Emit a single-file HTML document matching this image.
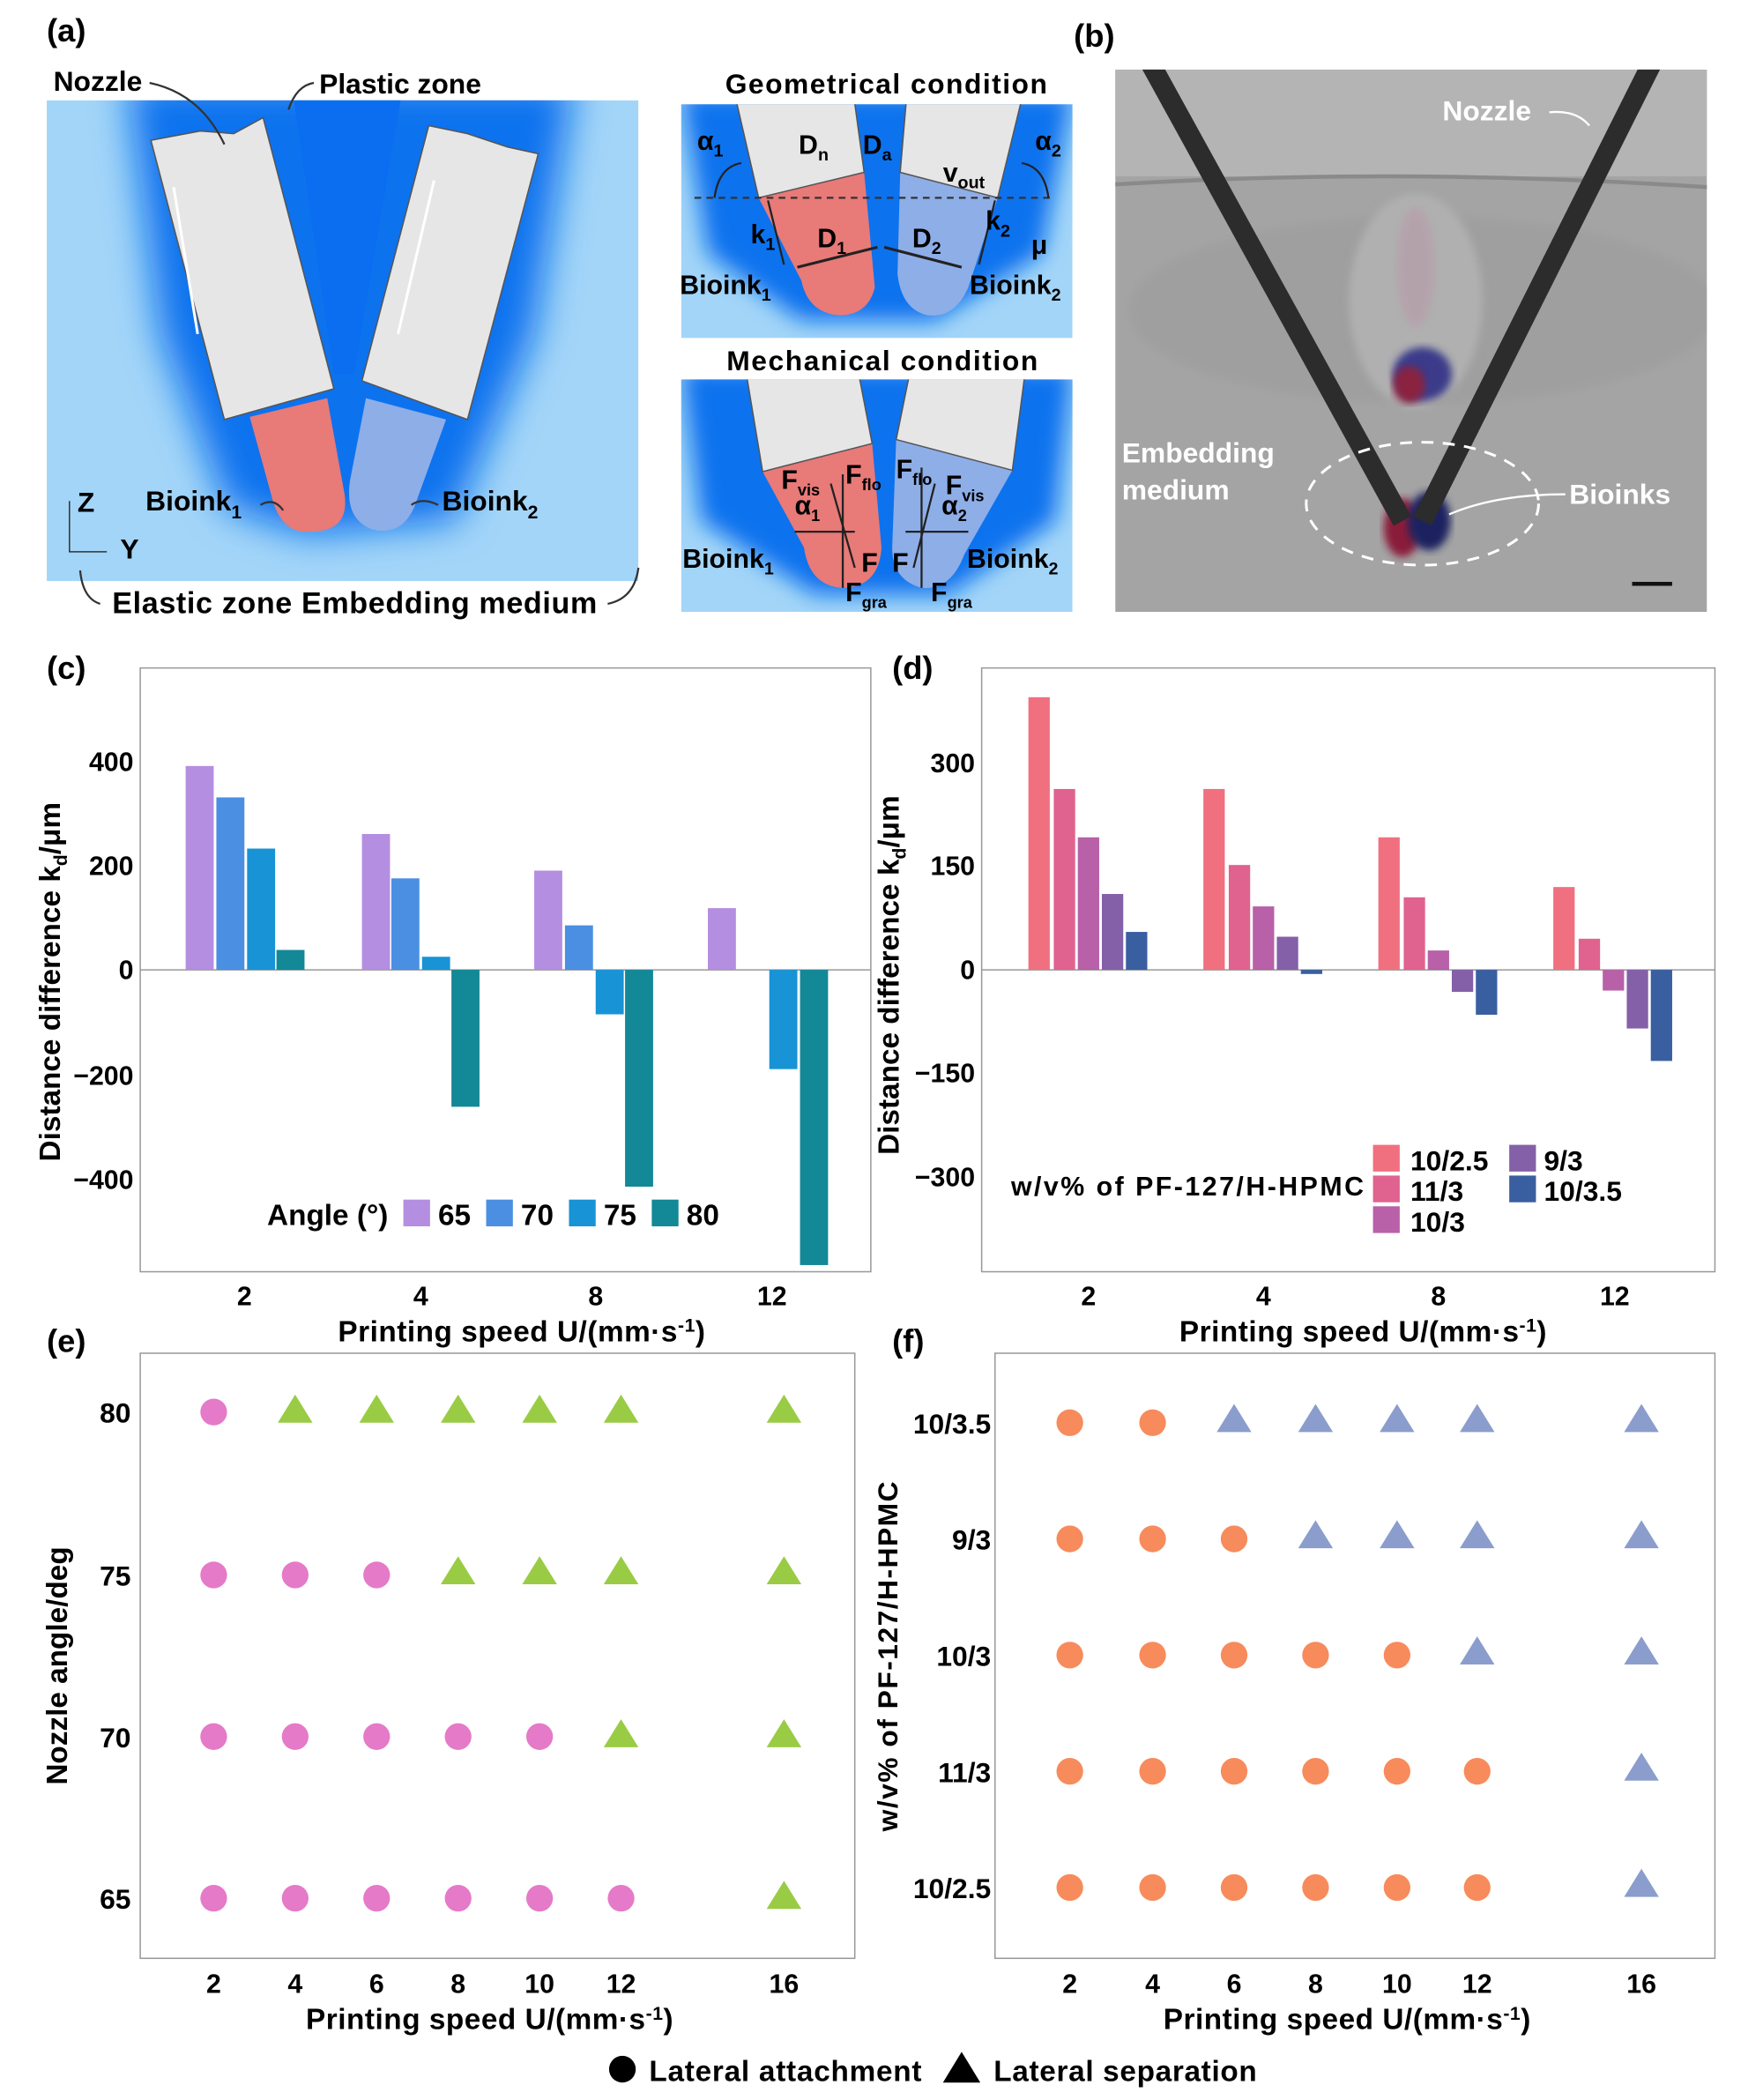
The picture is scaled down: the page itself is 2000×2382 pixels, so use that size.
<!DOCTYPE html>
<html><head><meta charset="utf-8"><style>
html,body{margin:0;padding:0;background:#fff;}
svg{display:block;}
text{font-family:"Liberation Sans",Arial,sans-serif;font-weight:bold;}
</style></head><body>
<svg width="2000" height="2382" viewBox="0 0 1320 1572" xmlns="http://www.w3.org/2000/svg">
<defs>
<filter id="bl" x="-30%" y="-30%" width="160%" height="160%"><feGaussianBlur stdDeviation="14"/></filter>
<filter id="bl2" x="-30%" y="-30%" width="160%" height="160%"><feGaussianBlur stdDeviation="8"/></filter>
<filter id="bl3"><feGaussianBlur stdDeviation="3"/></filter>
<clipPath id="ca"><rect x="35" y="75" width="443" height="360"/></clipPath>
<clipPath id="cg"><rect x="510" y="78" width="293" height="175"/></clipPath>
<clipPath id="cm"><rect x="510" y="284" width="293" height="174"/></clipPath>
<clipPath id="cb"><rect x="835" y="52" width="443" height="406"/></clipPath>
</defs>

<!-- Panel a -->
<text x="35" y="31" font-size="24">(a)</text>
<g clip-path="url(#ca)">
<rect x="35" y="75" width="443" height="360" fill="#a3d5f8"/>
<polygon points="95,60 230,60 330,60 430,60 400,250 340,390 230,400 170,380 120,250" fill="#0a72ee" filter="url(#bl)"/>
<polygon points="220,75 300,75 265,280 250,280" fill="#0b6ef0"/>
<path d="M187,312 L245,298 L258,370 Q262,398 232,398 Q210,400 203,370 Z" fill="#e87a78"/>
<path d="M274,298 L334,314 L310,380 Q300,402 278,396 Q258,388 262,360 Z" fill="#8eaee8"/>
<polygon points="113,105 150,98 175,100 197,88 250,291 168,314" fill="#e6e6e6" stroke="#555" stroke-width="1"/>
<polygon points="321,94 350,100 380,110 403,115 350,314 271,285" fill="#e6e6e6" stroke="#555" stroke-width="1"/>
<line x1="130" y1="140" x2="148" y2="250" stroke="#fff" stroke-width="2"/>
<line x1="325" y1="135" x2="298" y2="250" stroke="#fff" stroke-width="2"/>
</g>
<text x="40" y="68" font-size="21">Nozzle</text>
<path d="M112,62 Q150,70 168,108" fill="none" stroke="#333" stroke-width="1.5"/>
<text x="239" y="70" font-size="21">Plastic zone</text>
<path d="M235,62 Q222,64 216,82" fill="none" stroke="#333" stroke-width="1.5"/>
<text x="109" y="382" font-size="21">Bioink<tspan font-size="14" dy="6">1</tspan></text>
<text x="331" y="382" font-size="21">Bioink<tspan font-size="14" dy="6">2</tspan></text>
<path d="M195,378 Q205,372 212,382" fill="none" stroke="#333" stroke-width="1.5"/>
<path d="M308,378 Q316,372 328,378" fill="none" stroke="#333" stroke-width="1.5"/>
<path d="M52,375 L52,413 L80,413" fill="none" stroke="#333" stroke-width="1"/>
<text x="58" y="383" font-size="21">Z</text>
<text x="90" y="418" font-size="21">Y</text>
<text x="84" y="459" font-size="22.5" textLength="363">Elastic zone  Embedding medium</text>
<path d="M60,427 Q62,448 75,452" fill="none" stroke="#333" stroke-width="1.5"/>
<path d="M478,425 Q475,448 455,452" fill="none" stroke="#333" stroke-width="1.5"/>

<!-- Geometrical -->
<text x="543" y="70" font-size="21" textLength="241">Geometrical condition</text>
<g clip-path="url(#cg)">
<rect x="510" y="78" width="293" height="175" fill="#a3d5f8"/>
<polygon points="510,70 803,70 780,190 700,240 600,240 530,190" fill="#0a72ee" filter="url(#bl2)"/>
<path d="M568,148 L647,129 L655,215 Q650,236 628,236 Q605,234 600,210 Z" fill="#e87a78"/>
<path d="M674,129 L747,148 L725,215 Q715,238 695,236 Q675,232 672,205 Z" fill="#8eaee8"/>
<polygon points="550,70 639,70 647,129 568,148" fill="#e6e6e6" stroke="#555" stroke-width="1"/>
<polygon points="679,70 766,70 747,148 674,129" fill="#e6e6e6" stroke="#555" stroke-width="1"/>
<line x1="520" y1="148" x2="790" y2="148" stroke="#333" stroke-width="1.5" stroke-dasharray="5,4"/>
<path d="M535,148 Q538,125 555,122" fill="none" stroke="#222" stroke-width="1.5"/>
<path d="M785,148 Q782,125 765,122" fill="none" stroke="#222" stroke-width="1.5"/>
<line x1="575" y1="150" x2="587" y2="198" stroke="#222" stroke-width="1.5"/>
<line x1="745" y1="150" x2="733" y2="198" stroke="#222" stroke-width="1.5"/>
<line x1="597" y1="200" x2="657" y2="185" stroke="#222" stroke-width="2"/>
<line x1="662" y1="185" x2="720" y2="200" stroke="#222" stroke-width="2"/>
</g>
<text x="522" y="112" font-size="20">α<tspan font-size="13" dy="5">1</tspan></text>
<text x="598" y="115" font-size="20">D<tspan font-size="13" dy="5">n</tspan></text>
<text x="646" y="115" font-size="20">D<tspan font-size="13" dy="5">a</tspan></text>
<text x="706" y="136" font-size="20">v<tspan font-size="13" dy="5">out</tspan></text>
<text x="775" y="112" font-size="20">α<tspan font-size="13" dy="5">2</tspan></text>
<text x="562" y="182" font-size="20">k<tspan font-size="13" dy="5">1</tspan></text>
<text x="612" y="185" font-size="20">D<tspan font-size="13" dy="5">1</tspan></text>
<text x="683" y="185" font-size="20">D<tspan font-size="13" dy="5">2</tspan></text>
<text x="738" y="172" font-size="20">k<tspan font-size="13" dy="5">2</tspan></text>
<text x="772" y="190" font-size="20">μ</text>
<text x="509" y="220" font-size="20">Bioink<tspan font-size="13" dy="5">1</tspan></text>
<text x="726" y="220" font-size="20">Bioink<tspan font-size="13" dy="5">2</tspan></text>

<!-- Mechanical -->
<text x="544" y="277" font-size="21" textLength="233">Mechanical condition</text>
<g clip-path="url(#cm)">
<rect x="510" y="284" width="293" height="174" fill="#a3d5f8"/>
<polygon points="510,275 803,275 790,390 710,445 610,445 525,390" fill="#0a72ee" filter="url(#bl2)"/>
<path d="M571,353 L653,332 L660,410 Q658,440 630,440 Q606,438 602,410 Z" fill="#e87a78"/>
<path d="M671,329 L758,352 L722,415 Q712,442 690,440 Q668,434 668,410 Z" fill="#8eaee8"/>
<polygon points="558,275 642,275 653,332 571,353" fill="#e6e6e6" stroke="#555" stroke-width="1"/>
<polygon points="682,275 768,275 758,352 671,329" fill="#e6e6e6" stroke="#555" stroke-width="1"/>
<line x1="595" y1="398" x2="640" y2="398" stroke="#222" stroke-width="1.5"/>
<line x1="678" y1="398" x2="725" y2="398" stroke="#222" stroke-width="1.5"/>
<line x1="631" y1="355" x2="631" y2="440" stroke="#222" stroke-width="1.5"/>
<line x1="690" y1="350" x2="690" y2="440" stroke="#222" stroke-width="1.5"/>
<line x1="622" y1="362" x2="640" y2="425" stroke="#222" stroke-width="1.5"/>
<line x1="700" y1="362" x2="684" y2="425" stroke="#222" stroke-width="1.5"/>
</g>
<text x="585" y="366" font-size="20">F<tspan font-size="12" dy="5">vis</tspan></text>
<text x="633" y="362" font-size="20">F<tspan font-size="12" dy="5">flo</tspan></text>
<text x="671" y="358" font-size="20">F<tspan font-size="12" dy="5">flo</tspan></text>
<text x="708" y="370" font-size="20">F<tspan font-size="12" dy="5">vis</tspan></text>
<text x="595" y="385" font-size="20">α<tspan font-size="12" dy="5">1</tspan></text>
<text x="705" y="385" font-size="20">α<tspan font-size="12" dy="5">2</tspan></text>
<text x="645" y="428" font-size="20">F</text>
<text x="668" y="428" font-size="20">F</text>
<text x="633" y="450" font-size="20">F<tspan font-size="12" dy="5">gra</tspan></text>
<text x="697" y="450" font-size="20">F<tspan font-size="12" dy="5">gra</tspan></text>
<text x="511" y="425" font-size="20">Bioink<tspan font-size="13" dy="5">1</tspan></text>
<text x="724" y="425" font-size="20">Bioink<tspan font-size="13" dy="5">2</tspan></text>

<!-- Panel b -->
<text x="804" y="35" font-size="24">(b)</text>
<g clip-path="url(#cb)">
<rect x="835" y="52" width="443" height="406" fill="#a4a4a4"/>
<rect x="835" y="52" width="443" height="80" fill="#b4b4b4"/>
<path d="M835,138 Q1050,125 1278,140" fill="none" stroke="#8a8a8a" stroke-width="3"/>
<ellipse cx="1065" cy="232" rx="220" ry="70" fill="#999" opacity="0.4" filter="url(#bl3)"/>
<ellipse cx="1060" cy="225" rx="50" ry="80" fill="#b0b0b0" filter="url(#bl3)"/>
<ellipse cx="1060" cy="200" rx="14" ry="45" fill="#b89aa8" opacity="0.6" filter="url(#bl3)"/>
<ellipse cx="1065" cy="280" rx="22" ry="20" fill="#3a3a8a" filter="url(#bl3)"/>
<ellipse cx="1055" cy="288" rx="12" ry="14" fill="#8a2040" filter="url(#bl3)"/>
<ellipse cx="1050" cy="395" rx="14" ry="22" fill="#8a1a3a" filter="url(#bl3)"/>
<ellipse cx="1070" cy="390" rx="16" ry="22" fill="#1a2060" filter="url(#bl3)"/>
<line x1="860" y1="45" x2="1050" y2="390" stroke="#2c2c2c" stroke-width="15"/>
<line x1="1238" y1="45" x2="1065" y2="390" stroke="#2c2c2c" stroke-width="15"/>
<ellipse cx="1065" cy="377" rx="87" ry="46" fill="none" stroke="#fff" stroke-width="2" stroke-dasharray="9,7"/>
<line x1="1222" y1="437" x2="1252" y2="437" stroke="#111" stroke-width="3"/>
</g>
<text x="1080" y="90" font-size="21" fill="#fff">Nozzle</text>
<path d="M1160,84 Q1180,82 1190,94" fill="none" stroke="#fff" stroke-width="1.5"/>
<text x="840" y="346" font-size="21" fill="#fff">Embedding</text>
<text x="840" y="374" font-size="21" fill="#fff">medium</text>
<text x="1175" y="377" font-size="21" fill="#fff">Bioinks</text>
<path d="M1172,370 Q1120,370 1085,385" fill="none" stroke="#fff" stroke-width="1.5"/>

<!-- Panel c -->
<text x="35" y="508" font-size="24">(c)</text>
<rect x="105" y="500" width="547" height="452" fill="none" stroke="#999" stroke-width="1"/>
<line x1="105" y1="726" x2="652" y2="726" stroke="#999" stroke-width="1"/>
<g font-size="20" text-anchor="end">
<text x="100" y="577">400</text><text x="100" y="655">200</text><text x="100" y="733">0</text>
<text x="100" y="812">−200</text><text x="100" y="890">−400</text>
</g>
<g font-size="20" text-anchor="middle">
<text x="183" y="977">2</text><text x="315" y="977">4</text><text x="446" y="977">8</text><text x="578" y="977">12</text>
</g>
<text x="253" y="1004" font-size="22" textLength="275">Printing speed U/(mm·s<tspan font-size="14" dy="-7">-1</tspan><tspan dy="7">)</tspan></text>
<text transform="translate(45,735) rotate(-90)" font-size="22" text-anchor="middle">Distance difference k<tspan font-size="14" dy="5">d</tspan><tspan dy="-5">/μm</tspan></text>
<g>
<rect x="139" y="573.4" width="21" height="152.6" fill="#b48ee0"/>
<rect x="162" y="596.9" width="21" height="129.1" fill="#4a8fe2"/>
<rect x="185" y="635.2" width="21" height="90.8" fill="#1893d6"/>
<rect x="207" y="711.1" width="21" height="14.9" fill="#138896"/>
<rect x="271" y="624.3" width="21" height="101.7" fill="#b48ee0"/>
<rect x="293" y="657.5" width="21" height="68.5" fill="#4a8fe2"/>
<rect x="316" y="716.2" width="21" height="9.8" fill="#1893d6"/>
<rect x="338" y="726" width="21" height="102.5" fill="#138896"/>
<rect x="400" y="651.7" width="21" height="74.3" fill="#b48ee0"/>
<rect x="423" y="692.7" width="21" height="33.3" fill="#4a8fe2"/>
<rect x="446" y="726" width="21" height="33.3" fill="#1893d6"/>
<rect x="468" y="726" width="21" height="162.3" fill="#138896"/>
<rect x="530" y="679.8" width="21" height="46.2" fill="#b48ee0"/>
<rect x="576" y="726" width="21" height="74.3" fill="#1893d6"/>
<rect x="599" y="726" width="21" height="221" fill="#138896"/>
</g>
<text x="200" y="917" font-size="22">Angle (°)</text>
<rect x="302" y="898" width="20" height="20" fill="#b48ee0"/><text x="328" y="917" font-size="22">65</text>
<rect x="364" y="898" width="20" height="20" fill="#4a8fe2"/><text x="390" y="917" font-size="22">70</text>
<rect x="426" y="898" width="20" height="20" fill="#1893d6"/><text x="452" y="917" font-size="22">75</text>
<rect x="488" y="898" width="20" height="20" fill="#138896"/><text x="514" y="917" font-size="22">80</text>

<!-- Panel d -->
<text x="668" y="508" font-size="24">(d)</text>
<rect x="735" y="500" width="549" height="452" fill="none" stroke="#999" stroke-width="1"/>
<line x1="735" y1="726" x2="1284" y2="726" stroke="#999" stroke-width="1"/>
<g font-size="20" text-anchor="end">
<text x="730" y="578">300</text><text x="730" y="655">150</text><text x="730" y="733">0</text>
<text x="730" y="810">−150</text><text x="730" y="888">−300</text>
</g>
<g font-size="20" text-anchor="middle">
<text x="815" y="977">2</text><text x="946" y="977">4</text><text x="1077" y="977">8</text><text x="1209" y="977">12</text>
</g>
<text x="883" y="1004" font-size="22" textLength="275">Printing speed U/(mm·s<tspan font-size="14" dy="-7">-1</tspan><tspan dy="7">)</tspan></text>
<text transform="translate(673,730) rotate(-90)" font-size="22" text-anchor="middle">Distance difference k<tspan font-size="14" dy="5">d</tspan><tspan dy="-5">/μm</tspan></text>
<g>
<rect x="770" y="521.9" width="16" height="204.1" fill="#f07080"/>
<rect x="789" y="590.6" width="16" height="135.4" fill="#e0628f"/>
<rect x="807" y="626.8" width="16" height="99.2" fill="#b860a8"/>
<rect x="825" y="669.2" width="16" height="56.8" fill="#8460a8"/>
<rect x="843" y="697.6" width="16" height="28.4" fill="#3a5fa0"/>
<rect x="901" y="590.6" width="16" height="135.4" fill="#f07080"/>
<rect x="920" y="647.5" width="16" height="78.5" fill="#e0628f"/>
<rect x="938" y="678.5" width="16" height="47.5" fill="#b860a8"/>
<rect x="956" y="701.2" width="16" height="24.8" fill="#8460a8"/>
<rect x="974" y="726" width="16" height="3.1" fill="#3a5fa0"/>
<rect x="1032" y="626.8" width="16" height="99.2" fill="#f07080"/>
<rect x="1051" y="671.7" width="16" height="54.3" fill="#e0628f"/>
<rect x="1069" y="711.5" width="16" height="14.5" fill="#b860a8"/>
<rect x="1087" y="726" width="16" height="16.5" fill="#8460a8"/>
<rect x="1105" y="726" width="16" height="33.6" fill="#3a5fa0"/>
<rect x="1163" y="664" width="16" height="62" fill="#f07080"/>
<rect x="1182" y="702.7" width="16" height="23.3" fill="#e0628f"/>
<rect x="1200" y="726" width="16" height="15.5" fill="#b860a8"/>
<rect x="1218" y="726" width="16" height="43.9" fill="#8460a8"/>
<rect x="1236" y="726" width="16" height="68.2" fill="#3a5fa0"/>
</g>
<text x="757" y="895" font-size="20" textLength="264">w/v% of PF-127/H-HPMC</text>
<rect x="1028" y="857" width="20" height="20" fill="#f07080"/><text x="1056" y="876" font-size="21">10/2.5</text>
<rect x="1028" y="880" width="20" height="20" fill="#e0628f"/><text x="1056" y="899" font-size="21">11/3</text>
<rect x="1028" y="903" width="20" height="20" fill="#b860a8"/><text x="1056" y="922" font-size="21">10/3</text>
<rect x="1130" y="857" width="20" height="20" fill="#8460a8"/><text x="1156" y="876" font-size="21">9/3</text>
<rect x="1130" y="880" width="20" height="20" fill="#3a5fa0"/><text x="1156" y="899" font-size="21">10/3.5</text>

<!-- Panel e -->
<text x="35" y="1012" font-size="24">(e)</text>
<rect x="105" y="1013" width="535" height="453" fill="none" stroke="#999" stroke-width="1"/>
<g font-size="21" text-anchor="end">
<text x="98" y="1065">80</text><text x="98" y="1187">75</text><text x="98" y="1308">70</text><text x="98" y="1429">65</text>
</g>
<g font-size="20" text-anchor="middle">
<text x="160" y="1492">2</text><text x="221" y="1492">4</text><text x="282" y="1492">6</text><text x="343" y="1492">8</text><text x="404" y="1492">10</text><text x="465" y="1492">12</text><text x="587" y="1492">16</text>
</g>
<text x="229" y="1519" font-size="22" textLength="275">Printing speed U/(mm·s<tspan font-size="14" dy="-7">-1</tspan><tspan dy="7">)</tspan></text>
<text transform="translate(50,1247) rotate(-90)" font-size="22" text-anchor="middle">Nozzle angle/deg</text>
<g fill="#e57ac8">
<circle cx="160" cy="1057" r="10"/>
<circle cx="160" cy="1179" r="10"/><circle cx="221" cy="1179" r="10"/><circle cx="282" cy="1179" r="10"/>
<circle cx="160" cy="1300" r="10"/><circle cx="221" cy="1300" r="10"/><circle cx="282" cy="1300" r="10"/><circle cx="343" cy="1300" r="10"/><circle cx="404" cy="1300" r="10"/>
<circle cx="160" cy="1421" r="10"/><circle cx="221" cy="1421" r="10"/><circle cx="282" cy="1421" r="10"/><circle cx="343" cy="1421" r="10"/><circle cx="404" cy="1421" r="10"/><circle cx="465" cy="1421" r="10"/>
</g>
<g fill="#99cc44">
<path d="M221,1044 l13,21 h-26z"/><path d="M282,1044 l13,21 h-26z"/><path d="M343,1044 l13,21 h-26z"/><path d="M404,1044 l13,21 h-26z"/><path d="M465,1044 l13,21 h-26z"/><path d="M587,1044 l13,21 h-26z"/>
<path d="M343,1165 l13,21 h-26z"/><path d="M404,1165 l13,21 h-26z"/><path d="M465,1165 l13,21 h-26z"/><path d="M587,1165 l13,21 h-26z"/>
<path d="M465,1287 l13,21 h-26z"/><path d="M587,1287 l13,21 h-26z"/>
<path d="M587,1408 l13,21 h-26z"/>
</g>

<!-- Panel f -->
<text x="668" y="1012" font-size="24">(f)</text>
<rect x="745" y="1013" width="539" height="453" fill="none" stroke="#999" stroke-width="1"/>
<g font-size="21" text-anchor="end">
<text x="742" y="1073">10/3.5</text><text x="742" y="1160">9/3</text><text x="742" y="1247">10/3</text><text x="742" y="1334">11/3</text><text x="742" y="1421">10/2.5</text>
</g>
<g font-size="20" text-anchor="middle">
<text x="801" y="1492">2</text><text x="863" y="1492">4</text><text x="924" y="1492">6</text><text x="985" y="1492">8</text><text x="1046" y="1492">10</text><text x="1106" y="1492">12</text><text x="1229" y="1492">16</text>
</g>
<text x="871" y="1519" font-size="22" textLength="275">Printing speed U/(mm·s<tspan font-size="14" dy="-7">-1</tspan><tspan dy="7">)</tspan></text>
<text transform="translate(672,1240) rotate(-90)" font-size="21" text-anchor="middle" textLength="262">w/v% of PF-127/H-HPMC</text>
<g fill="#f78b5c">
<circle cx="801" cy="1065" r="10"/><circle cx="863" cy="1065" r="10"/>
<circle cx="801" cy="1152" r="10"/><circle cx="863" cy="1152" r="10"/><circle cx="924" cy="1152" r="10"/>
<circle cx="801" cy="1239" r="10"/><circle cx="863" cy="1239" r="10"/><circle cx="924" cy="1239" r="10"/><circle cx="985" cy="1239" r="10"/><circle cx="1046" cy="1239" r="10"/>
<circle cx="801" cy="1326" r="10"/><circle cx="863" cy="1326" r="10"/><circle cx="924" cy="1326" r="10"/><circle cx="985" cy="1326" r="10"/><circle cx="1046" cy="1326" r="10"/><circle cx="1106" cy="1326" r="10"/>
<circle cx="801" cy="1413" r="10"/><circle cx="863" cy="1413" r="10"/><circle cx="924" cy="1413" r="10"/><circle cx="985" cy="1413" r="10"/><circle cx="1046" cy="1413" r="10"/><circle cx="1106" cy="1413" r="10"/>
</g>
<g fill="#8a9dcc">
<path d="M924,1051 l13,21 h-26z"/><path d="M985,1051 l13,21 h-26z"/><path d="M1046,1051 l13,21 h-26z"/><path d="M1106,1051 l13,21 h-26z"/><path d="M1229,1051 l13,21 h-26z"/>
<path d="M985,1138 l13,21 h-26z"/><path d="M1046,1138 l13,21 h-26z"/><path d="M1106,1138 l13,21 h-26z"/><path d="M1229,1138 l13,21 h-26z"/>
<path d="M1106,1225 l13,21 h-26z"/><path d="M1229,1225 l13,21 h-26z"/>
<path d="M1229,1312 l13,21 h-26z"/>
<path d="M1229,1399 l13,21 h-26z"/>
</g>

<!-- bottom legend -->
<circle cx="466" cy="1549" r="10" fill="#000"/>
<text x="486" y="1558" font-size="22" textLength="204">Lateral attachment</text>
<path d="M720,1536 l14,23 h-28z" fill="#000"/>
<text x="744" y="1558" font-size="22" textLength="197">Lateral separation</text>
</svg>
</body></html>
